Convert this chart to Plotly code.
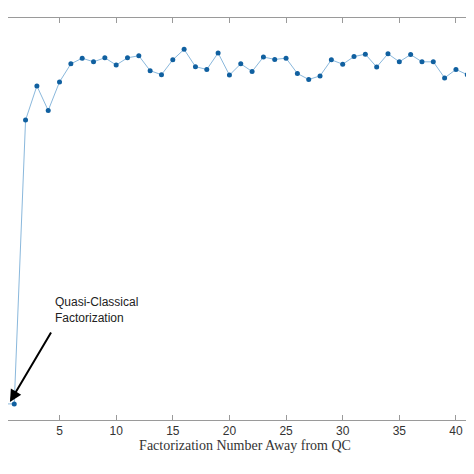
import plotly.graph_objects as go

# factorization index and value (y axis labels are cut off in the reference, arbitrary units)
steps = list(range(0, 43))
values = [4.0, 4.0, 74.6, 83.1, 77.0, 84.1, 88.6, 90.0, 89.1, 90.1, 88.3,
          90.1, 90.6, 86.9, 85.9, 89.6, 92.2, 87.9, 87.2, 91.3, 85.8,
          88.6, 86.7, 90.3, 89.7, 90.0, 86.2, 84.7, 85.6, 89.6, 88.5,
          90.4, 91.0, 87.8, 91.1, 89.1, 90.9, 89.1, 89.1, 85.1, 87.2,
          85.9, 92.4]
x_ticks = [5, 10, 15, 20, 25, 30, 35, 40]

fig = go.Figure()
fig.add_trace(go.Scatter(
    x=steps, y=values, mode='lines+markers',
    line=dict(color='#8ab8dc', width=1),
    marker=dict(color='#1060a0', size=5),
    cliponaxis=True, showlegend=False
))

axis_style = dict(showgrid=False, zeroline=False, showline=True, linecolor='#9a9a9a',
                  linewidth=1, mirror='ticks', ticklen=5, tickcolor='#9a9a9a')
fig.update_xaxes(range=[0.45, 42.3], tickvals=x_ticks, ticks='inside',
                 tickfont=dict(family='Liberation Sans', size=12, color='#333'),
                 title=dict(text='Factorization Number Away from QC', standoff=2,
                            font=dict(family='Liberation Serif', size=14, color='#333')),
                 **axis_style)
fig.update_yaxes(range=[0, 100], showticklabels=False, ticks='', showgrid=False,
                 zeroline=False, showline=False)

# arrow to the quasi-classical point
fig.add_annotation(x=0.62, y=4.5, text='', showarrow=True, arrowhead=2, arrowsize=1.2,
                   arrowwidth=2, arrowcolor='black', ax=42, ay=-71)
fig.add_annotation(x=4.42, y=27.4, text='Quasi-Classical<br>Factorization', showarrow=False,
                   xanchor='left', align='left',
                   font=dict(family='Liberation Sans', size=12, color='#222'))

fig.update_layout(width=474, height=474, margin=dict(l=0, r=0, t=10, b=62),
                  plot_bgcolor='white', paper_bgcolor='white')
fig.write_html("out.html")
